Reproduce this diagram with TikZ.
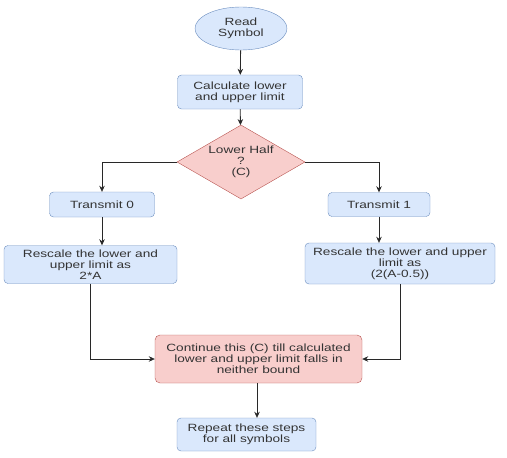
\documentclass[tikz,border=0pt]{standalone}
\usepackage{fontspec}
\setmainfont{Liberation Sans}[FakeStretch=1.3]
\usepackage{tikz}
\usetikzlibrary{shapes.geometric, arrows.meta}
\definecolor{fillB}{RGB}{218,232,252}
\definecolor{drawB}{RGB}{108,142,191}
\definecolor{fillR}{RGB}{248,206,204}
\definecolor{drawR}{RGB}{184,84,80}
\definecolor{lineK}{RGB}{40,40,40}
\tikzset{
  txt/.style={align=center, inner sep=0pt, text=black!80,
    font=\fontsize{10.5}{11}\selectfont},
  boxB/.style={txt, draw=drawB, fill=fillB, rounded corners=4pt},
  boxR/.style={txt, draw=drawR, fill=fillR, rounded corners=5pt},
  startB/.style={txt, ellipse, draw=drawB, fill=fillB},
  decR/.style={txt, diamond, draw=drawR, fill=fillR, aspect=1.73},
  flow/.style={lineK, line width=0.8pt, -{Stealth[length=6pt, width=5.5pt]}},
  link/.style={lineK, line width=0.8pt}
}

\begin{document}
\begin{tikzpicture}[x=1pt, y=1pt]
  \useasboundingbox (0,0) rectangle (507,-458);
  \node[startB, minimum width=92, minimum height=43] (read) at (241,-28.5) {Read\\Symbol};
  \node[boxB, minimum width=125, minimum height=34] (calc) at (240,-92) {Calculate lower\\and upper limit};
  \node[decR, minimum width=128, minimum height=74] (half) at (241,-162) {Lower Half\\?\\(C)};
  \node[boxB, minimum width=105, minimum height=25] (tx0) at (102,-204.5) {Transmit 0};
  \node[boxB, minimum width=102, minimum height=24] (tx1) at (379,-204.5) {Transmit 1};
  \node[boxB, minimum width=173, minimum height=38] (res0) at (90.5,-264.5) {Rescale the lower and\\upper limit as\\2*A};
  \node[boxB, minimum width=190, minimum height=41] (res1) at (400,-263.5) {Rescale the lower and upper\\limit as\\(2(A-0.5))};
  \node[boxR, minimum width=207, minimum height=48] (cont) at (258.5,-359) {Continue this (C) till calculated\\lower and upper limit falls in\\neither bound};
  \node[boxB, minimum width=139, minimum height=33] (rep) at (246.5,-434.5) {Repeat these steps\\for all symbols};

  \draw[flow] (read) -- (calc);
  \draw[flow] (calc) -- (half);
  \draw[flow] (half.west) -| (tx0.north);
  \draw[flow] (half.east) -| (tx1.north);
  \draw[flow] (tx0.south) -- (tx0.south |- res0.north);
  \draw[flow] (tx1.south) -- (tx1.south |- res1.north);
  \draw[flow] (res0.south) |- (cont.west);
  \draw[flow] (res1.south) |- (cont.east);
  \draw[flow] (cont.south) ++(-1.5,0) coordinate (cs) -- (cs |- rep.north);
\end{tikzpicture}
\end{document}
